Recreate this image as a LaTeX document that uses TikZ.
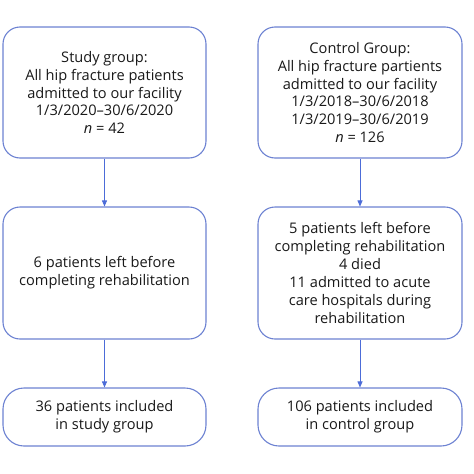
\documentclass[tikz,border=0pt]{standalone}
\usepackage{fontspec}
\setmainfont{Open Sans}
\usetikzlibrary{arrows.meta}
\definecolor{boxc}{HTML}{6D82D2}
\definecolor{arrc}{HTML}{4C6CD8}
\begin{document}
\begin{tikzpicture}[x=1pt,y=1pt,
  box/.style={draw=boxc, line width=1.1pt, rounded corners=17pt, fill=white,
    align=center, inner sep=0pt, text=black!90,
    font=\fontsize{14.6}{17.9}\selectfont},
  arr/.style={draw=arrc, line width=0.9pt, -{Triangle[length=6pt,width=5pt]}}]
\useasboundingbox (0,0) rectangle (474,-474);
\node[box, minimum width=203pt, minimum height=131pt] (s1) at (104.5,-92.5)
  {Study group:\\All hip fracture patients\\admitted to our facility\\1/3/2020--30/6/2020\\\textit{n} = 42};
\node[box, minimum width=204pt, minimum height=131pt] (c1) at (360,-92.5)
  {Control Group:\\All hip fracture partients\\admitted to our facility\\1/3/2018--30/6/2018\\1/3/2019--30/6/2019\\\textit{n} = 126};
\node[box, minimum width=203pt, minimum height=132pt] (s2) at (104.5,-273)
  {6 patients left before\\completing rehabilitation};
\node[box, minimum width=204pt, minimum height=132pt] (c2) at (360,-273)
  {5 patients left before\\completing rehabilitation\\4 died\\11 admitted to acute\\care hospitals during\\rehabilitation};
\node[box, rounded corners=21pt, minimum width=203pt, minimum height=58pt] (s3) at (104.5,-417)
  {36 patients included\\in study group};
\node[box, rounded corners=21pt, minimum width=204pt, minimum height=58pt] (c3) at (360,-417)
  {106 patients included\\in control group};
\draw[arr] (s1) -- (s2);
\draw[arr] (s2) -- (s3);
\draw[arr] (c1) -- (c2);
\draw[arr] (c2) -- (c3);
\end{tikzpicture}
\end{document}
